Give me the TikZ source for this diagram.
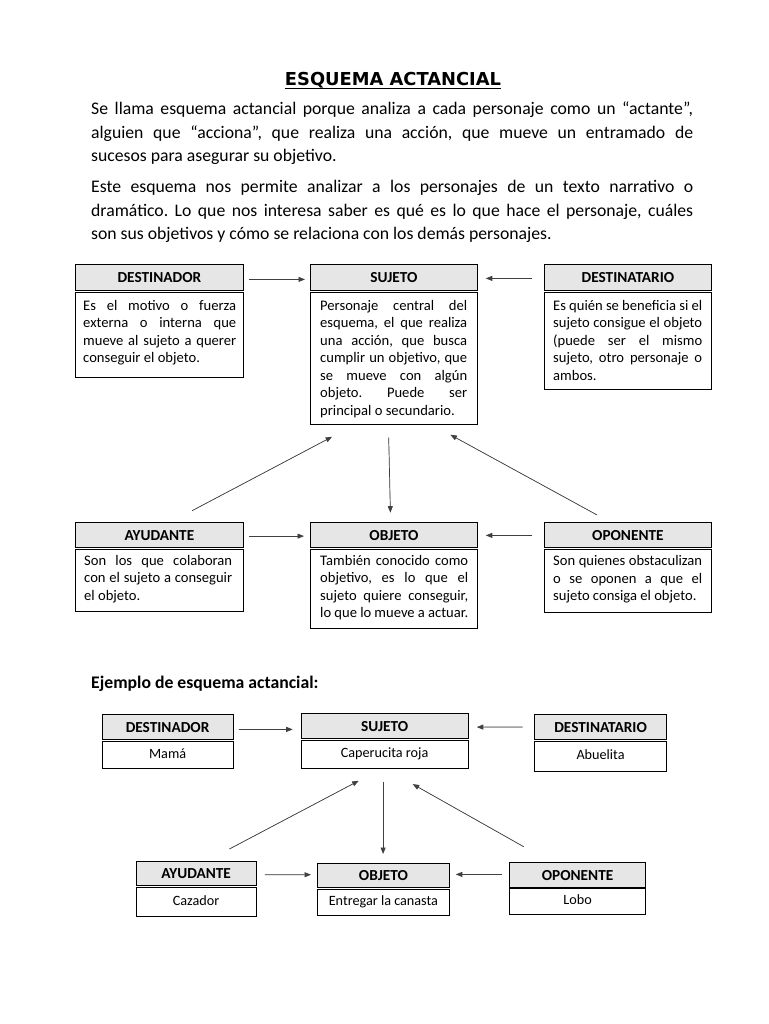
\documentclass[tikz,border=0pt]{standalone}
\usepackage{fontspec}
\setmainfont{Carlito}
\newfontfamily\titlefont{DejaVu Sans}
\usetikzlibrary{arrows.meta,calc}
\definecolor{hdrgray}{HTML}{E6E6E6}
\frenchspacing
\newcommand\jl[1]{\makebox[\hsize][s]{#1}\par}
\tikzset{
  hdr/.style={draw=black, line width=0.8pt, fill=hdrgray, inner sep=0pt, anchor=north west,
    font=\bfseries\fontsize{15.3}{18}\selectfont, text height=10.4pt, text depth=0pt},
  bodyb/.style={draw=black, line width=0.8pt, inner sep=0pt, anchor=north west},
  exb/.style={bodyb, font=\fontsize{14.2}{17}\selectfont, text height=10pt, text depth=3pt},
  btext/.style={anchor=base west, inner sep=0pt, font=\fontsize{14.6}{17.5}\selectfont},
  ptext/.style={anchor=base west, inner sep=0pt, font=\fontsize{17.7}{23.3}\selectfont},
  arr/.style={-{Triangle[length=6.5pt,width=5pt]}, line width=0.7pt, draw=black!75, fill=black}
}
\begin{document}
\begin{tikzpicture}[x=1pt,y=-1pt]
\useasboundingbox (0,0) rectangle (768,1024);
\fill[white] (0,0) rectangle (768,1024);

% title
\node[anchor=base, inner sep=0pt, font=\titlefont\bfseries\fontsize{17.85}{21}\selectfont] (ttl) at (393,86) {ESQUEMA ACTANCIAL};
\draw[line width=1.2pt] ([yshift=-2.6pt]ttl.base west) -- ([yshift=-2.6pt]ttl.base east);

% paragraphs
\node[ptext] (p1) at (91,115) {\parbox[t]{602pt}{%
\jl{Se llama esquema actancial porque analiza a cada personaje como un “actante”,}%
\jl{alguien que “acciona”, que realiza una acción, que mueve un entramado de}%
sucesos para asegurar su objetivo.}};
\node[ptext] (p2) at (91,193) {\parbox[t]{602pt}{%
\jl{Este esquema nos permite analizar a los personajes de un texto narrativo o}%
\jl{dramático. Lo que nos interesa saber es qué es lo que hace el personaje, cuáles}%
son sus objetivos y cómo se relaciona con los demás personajes.}};

% ---------- first diagram ----------
\node[hdr, minimum width=168pt, minimum height=26pt] (dnh) at (75,264) {DESTINADOR};
\node[bodyb, minimum width=168pt, minimum height=85pt] (dnb) at (75,292) {};
\node[btext] (dnt) at (83,310) {\parbox[t]{153pt}{%
\jl{Es el motivo o fuerza}\jl{externa o interna que}\jl{mueve al sujeto a querer}conseguir el objeto.}};

\node[hdr, minimum width=167pt, minimum height=26pt] (sjh) at (310,264) {SUJETO};
\node[bodyb, minimum width=167pt, minimum height=132pt] (sjb) at (310,292) {};
\node[btext] (sjt) at (320,310) {\parbox[t]{147pt}{%
\jl{Personaje central del}\jl{esquema, el que realiza}\jl{una acción, que busca}\jl{cumplir un objetivo, que}\jl{se mueve con algún}\jl{objeto. Puede ser}principal o secundario.}};

\node[hdr, minimum width=167pt, minimum height=26pt] (dth) at (544,264) {DESTINATARIO};
\node[bodyb, minimum width=167pt, minimum height=97pt] (dtb) at (544,292) {};
\node[btext] (dtt) at (553,310) {\parbox[t]{149pt}{%
\jl{Es quién se beneficia si el}\jl{sujeto consigue el objeto}\jl{(puede ser el mismo}\jl{sujeto, otro personaje o}ambos.}};

\node[hdr, minimum width=168pt, minimum height=25pt] (ayh) at (75,522) {AYUDANTE};
\node[bodyb, minimum width=168pt, minimum height=62pt] (ayb) at (75,549) {};
\node[btext] (ayt) at (84,565) {\parbox[t]{148pt}{%
\jl{Son los que colaboran}\jl{con el sujeto a conseguir}el objeto.}};

\node[hdr, minimum width=167pt, minimum height=25pt] (obh) at (310,522) {OBJETO};
\node[bodyb, minimum width=167pt, minimum height=79pt] (obb) at (310,549) {};
\node[btext] (obt) at (320,565) {\parbox[t]{148pt}{%
\jl{También conocido como}\jl{objetivo, es lo que el}\jl{sujeto quiere conseguir,}lo que lo mueve a actuar.}};

\node[hdr, minimum width=167pt, minimum height=25pt] (oph) at (544,522) {OPONENTE};
\node[bodyb, minimum width=167pt, minimum height=63pt] (opb) at (544,549) {};
\node[btext] (opt) at (553,565.5) {\parbox[t]{149pt}{%
\jl{Son quienes obstaculizan}\jl{o se oponen a que el}sujeto consiga el objeto.}};

\draw[arr] ($(dnh.east)+(5,2)$) -- ($(sjh.west)+(-5,2)$);
\draw[arr] ($(dth.west)+(-12,1)$) -- ($(sjh.east)+(8,1)$);
\draw[arr] ($(ayh.east)+(5.3,1.2)$) -- ($(obh.west)+(-6,1.2)$);
\draw[arr] ($(oph.west)+(-12.3,0.5)$) -- ($(obh.east)+(8,0.5)$);
\draw[arr] ($(sjb.south)+(-5.2,12.7)$) -- ($(obh.north)+(-3.5,-9.3)$);
\draw[arr] ($(ayh.north)+(32.7,-11.3)$) -- ($(sjb.south)+(-61.8,12)$);
\draw[arr] ($(oph.north)+(-30.8,-7)$) -- ($(sjb.south)+(56.5,10)$);

% ---------- example ----------
\node[anchor=base west, inner sep=0pt, font=\bfseries\fontsize{17.7}{21}\selectfont] (ej) at (91,688) {Ejemplo de esquema actancial:};

\node[hdr, minimum width=131pt, minimum height=25.3pt] (dn2h) at (101.7,714) {DESTINADOR};
\node[exb, minimum width=131pt, minimum height=27.6pt] (dn2b) at (101.7,740.7) {Mamá};
\node[hdr, minimum width=167pt, minimum height=25pt] (sj2h) at (300.7,713.3) {SUJETO};
\node[exb, minimum width=167pt, minimum height=28.5pt] (sj2b) at (300.7,739.5) {Caperucita roja};
\node[hdr, minimum width=131.7pt, minimum height=25.3pt] (dt2h) at (534.3,714) {DESTINATARIO};
\node[exb, minimum width=131.7pt, minimum height=30.3pt] (dt2b) at (534.3,740.7) {Abuelita};

\node[hdr, minimum width=120pt, minimum height=24.3pt] (ay2h) at (135.7,861) {AYUDANTE};
\node[exb, minimum width=120pt, minimum height=29.3pt] (ay2b) at (135.7,886.7) {Cazador};
\node[hdr, minimum width=132.6pt, minimum height=24.6pt] (ob2h) at (316.7,862.7) {OBJETO};
\node[exb, minimum width=132.6pt, minimum height=26.5pt] (ob2b) at (316.7,888.5) {Entregar la canasta};
\node[hdr, minimum width=135.7pt, minimum height=24.4pt] (op2h) at (509.3,862.3) {OPONENTE};
\node[exb, minimum width=135.7pt, minimum height=26.5pt] (op2b) at (509.3,887.8) {Lobo};

\draw[arr] ($(dn2h.east)+(5,2.35)$) -- ($(sj2h.west)+(-8,3.2)$);
\draw[arr] ($(dt2h.west)+(-11.6,0)$) -- ($(sj2h.east)+(8.3,0.9)$);
\draw[arr] ($(ay2h.east)+(8.3,1.15)$) -- ($(ob2h.west)+(-5.7,-0.7)$);
\draw[arr] ($(op2h.west)+(-7.6,-0.5)$) -- ($(ob2h.east)+(5.7,-1)$);
\draw[arr] ($(sj2b.south)+(-1.5,13)$) -- ($(ob2h.north)+(-0.3,-8.7)$);
\draw[arr] ($(ay2h.north)+(33.3,-12)$) -- ($(sj2b.south)+(-25.9,12)$);
\draw[arr] ($(op2h.north)+(-53.85,-15.6)$) -- ($(sj2b.south)+(28.1,15.3)$);
\end{tikzpicture}
\end{document}
